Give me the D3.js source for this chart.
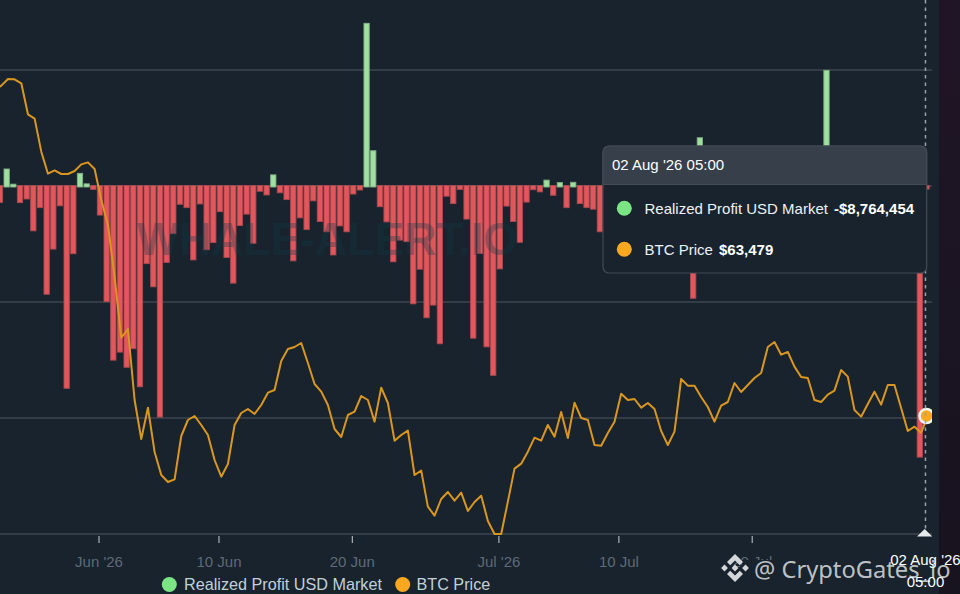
<!DOCTYPE html>
<html>
<head>
<meta charset="utf-8">
<script src="https://cdn.jsdelivr.net/npm/d3@7"></script>
<style>
  html, body { margin: 0; padding: 0; background: #18232d; overflow: hidden; }
  svg { display: block; font-family: "Liberation Sans", Arial, sans-serif; }
</style>
</head>
<body>
<svg id="chart" width="960" height="594"></svg>
<script>
// Realized profit per 12h, USD millions. null = sits behind the tooltip in the reference
const profit = [
  -0.53, 0.55, 0.06, -0.54, -0.42, -1.45, -0.70, -3.50, -2.04, -0.64,
  -6.54, -2.19, 0.41, 0.07, -0.11, -0.94, -3.74, -5.63, -5.37, -5.86,
  -5.26, -6.49, -2.51, -3.26, -7.47, -2.47, -1.54, -0.59, -0.70, -2.39,
  -0.58, -2.06, -1.83, -0.83, -2.31, -3.14, -1.28, -0.91, -1.85, -0.17,
  -0.29, 0.36, -0.22, -0.44, -2.42, -1.03, -1.41, -0.48, -1.15, -1.48,
  -2.23, -1.29, -1.48, -0.26, -0.13, 5.26, 1.14, -0.67, -1.16, -2.45,
  -1.75, -1.80, -3.81, -2.69, -4.26, -3.85, -5.10, -0.33, -0.57, -0.11,
  -1.07, -4.92, -2.18, -5.20, -6.12, -2.68, -0.65, -1.15, -1.82, -0.52,
  -0.12, -0.19, 0.19, -0.30, 0.11, -0.70, 0.12, -0.57, -0.70, -0.75,
  -1.48, null, null, null, null, null, null, null, null, null,
  null, null, null, null, -3.63, 1.56, null, null, null, null,
  null, null, null, null, null, null, null, null, null, null,
  null, null, null, null, 3.74, null, null, null, null, null,
  null, null, null, null, null, null, null, null, -8.764454, -0.10
];

// BTC price, USD, same 12h steps (starts one step before the bars)
const btcPrice = [
  73260, 73390, 73590, 73580, 73460, 72530, 72400, 71410, 70750, 70850,
  70740, 70740, 70830, 71030, 71090, 70890, 69960, 69210, 67650, 65830,
  66090, 63960, 62790, 63730, 62400, 61710, 61500, 61580, 62880, 63360,
  63480, 63210, 62910, 62160, 61660, 62040, 63210, 63570, 63690, 63540,
  63810, 64180, 64260, 65130, 65490, 65550, 65670, 65070, 64440, 64210,
  63810, 63090, 62850, 63510, 63610, 64080, 63960, 63310, 64330, 63870,
  62740, 62910, 63040, 61710, 61840, 60760, 60490, 60990, 61200, 60940,
  61180, 60630, 60900, 61090, 60330, 59940, 59940, 60910, 61900, 62050,
  62410, 62830, 62740, 63210, 62860, 63600, 62820, 63880, 63420, 63360,
  62610, 62590, 62970, 63310, 64150, 63960, 63990, 63730, 63870, 63690,
  63030, 62610, 63010, 64590, 64390, 64390, 64050, 63750, 63310, 63790,
  63900, 64470, 64200, 64410, 64620, 64770, 65550, 65700, 65320, 65400,
  64960, 64650, 64620, 63960, 63900, 64120, 64240, 64860, 64660, 63660,
  63460, 63840, 64210, 63820, 64410, 64410, 63720, 63030, 63160, 62980,
  63479
];

const tickDates = ["2026-06-01", "2026-06-10", "2026-06-20", "2026-07-01", "2026-07-10", "2026-07-20"];
const tickLabels = ["Jun '26", "10 Jun", "20 Jun", "Jul '26", "10 Jul", "20 Jul"];
const profitGrid = [3.75, 0, -3.75, -7.5, -11.25];

const barStart = Date.UTC(2026, 4, 24, 17);
const priceStart = Date.UTC(2026, 4, 24, 5);
const step = 12 * 3600 * 1000;

const width = 960;
const height = 594;
const plotRight = 932;
const barWidth = 5.3;
const barShift = -1.3; // bars sit a little left of the line points

const svg = d3.select("#chart");

const x = d3.scaleUtc()
  .domain([new Date("2026-06-01T00:00Z"), new Date("2026-07-20T00:00Z")])
  .range([98.5, 751.7]);
const yProfit = d3.scaleLinear().domain([-11.25, 3.75]).range([534, 70]);
const yPrice = d3.scaleLinear().domain([59940, 73860]).range([534, 70]);

svg.append("rect").attr("width", width).attr("height", height).attr("fill", "#18232d");

// Dark strip on the right of the plot
const stripGrad = svg.append("defs").append("linearGradient")
  .attr("id", "strip").attr("x1", 0).attr("x2", 0).attr("y1", 0).attr("y2", 1);
stripGrad.append("stop").attr("offset", "0%").attr("stop-color", "#201526");
stripGrad.append("stop").attr("offset", "100%").attr("stop-color", "#17131f");
svg.append("rect").attr("x", 939).attr("y", 0).attr("width", 21).attr("height", height)
  .attr("fill", "url(#strip)");

svg.select("defs").append("clipPath").attr("id", "plot")
  .append("rect").attr("x", 0).attr("y", 0).attr("width", plotRight).attr("height", 540);

// Grid lines
svg.append("g").attr("class", "grid")
  .selectAll("line").data(profitGrid).enter().append("line")
  .attr("x1", 0).attr("x2", plotRight)
  .attr("y1", (d) => yProfit(d)).attr("y2", (d) => yProfit(d))
  .attr("stroke", "#3e464f").attr("stroke-width", 1.4);

// Bottom axis
const axis = d3.axisBottom(x)
  .tickValues(tickDates.map((d) => new Date(d + "T00:00Z")))
  .tickFormat((d, i) => tickLabels[i])
  .tickSize(7)
  .tickPadding(13);
const axisG = svg.append("g").attr("transform", "translate(0,536)").call(axis);
axisG.select(".domain").remove();
axisG.selectAll("line").attr("stroke", "#c8cdd2");
axisG.selectAll("text").attr("fill", "#5f6a76").style("font-size", "15px")
  .style("font-family", '"Liberation Sans", Arial, sans-serif');

const plot = svg.append("g").attr("clip-path", "url(#plot)");

// Bars
const barData = profit
  .map((v, i) => ({ v: v, t: new Date(barStart + i * step) }))
  .filter((d) => d.v !== null);

plot.append("g").selectAll("rect").data(barData).enter().append("rect")
  .attr("x", (d) => x(d.t) + barShift - barWidth / 2)
  .attr("width", barWidth)
  .attr("y", (d) => (d.v > 0 ? yProfit(d.v) : yProfit(0) - 0.5))
  .attr("height", (d) => Math.abs(yProfit(d.v) - yProfit(0)) + (d.v > 0 ? 1 : 0.5))
  .attr("fill", (d) => (d.v > 0 ? "#9fdf9f" : "#e2565c"))
  .attr("stroke", (d) => (d.v > 0 ? "#7faf82" : "#a84a50"))
  .attr("stroke-width", 0.9);

// Price line
const priceLine = d3.line()
  .x((d, i) => x(new Date(priceStart + i * step)))
  .y((d) => yPrice(d));

plot.append("path").datum(btcPrice)
  .attr("d", priceLine)
  .attr("fill", "none")
  .attr("stroke", "#da971f")
  .attr("stroke-width", 2)
  .attr("stroke-linejoin", "round");

// Faint watermark over the bars
svg.append("text")
  .attr("x", 137).attr("y", 255)
  .attr("textLength", 381)
  .attr("lengthAdjust", "spacingAndGlyphs")
  .attr("fill", "#113a47").attr("opacity", 0.32)
  .style("font-size", "46px").style("font-weight", "bold")
  .text("WHALE-ALERT.IO");

// Crosshair
const lastTime = new Date(priceStart + (btcPrice.length - 1) * step);
const hoverX = x(lastTime) - 2.3;

svg.append("line")
  .attr("x1", hoverX).attr("x2", hoverX).attr("y1", 0).attr("y2", 530)
  .attr("stroke", "#9aa1a8").attr("stroke-width", 1.5).attr("stroke-dasharray", "3.5,4");

plot.append("circle")
  .attr("cx", hoverX + 1).attr("cy", yPrice(btcPrice[btcPrice.length - 1]))
  .attr("r", 7).attr("fill", "#f9a81f")
  .attr("stroke", "#f2f4f5").attr("stroke-width", 2.6);

svg.append("path")
  .attr("d", d3.line()([[hoverX - 8.5, 536.5], [hoverX + 6.8, 536.5], [hoverX - 0.8, 529]]) + "Z")
  .attr("fill", "#e6eaea");

// Tooltip
const tip = svg.append("g").attr("transform", "translate(603,146)");
const tipW = 323.7;
const tipH = 127;
tip.append("rect").attr("width", tipW).attr("height", tipH).attr("rx", 6)
  .attr("fill", "#18232d").attr("stroke", "#434b55").attr("stroke-width", 1.2);
tip.append("path")
  .attr("d", `M0,38.5V6A6,6 0 0 1 6,0H${tipW - 6}A6,6 0 0 1 ${tipW},6V38.5Z`)
  .attr("fill", "#363f4a").attr("stroke", "#434b55").attr("stroke-width", 1.2);
tip.append("text").attr("x", 9).attr("y", 24).attr("fill", "#ffffff")
  .style("font-size", "15px").text("02 Aug '26 05:00");

const tipRows = [
  { name: "Realized Profit USD Market", value: "-$8,764,454", color: "#7ae582", y: 62.3, vx: 231 },
  { name: "BTC Price", value: "$63,479", color: "#f9a81f", y: 103.3, vx: 116 }
];
tipRows.forEach((row) => {
  tip.append("circle").attr("cx", 21.3).attr("cy", row.y).attr("r", 7.5).attr("fill", row.color);
  tip.append("text").attr("x", 41.5).attr("y", row.y + 5.5).attr("fill", "#eef2f5")
    .style("font-size", "15px").text(row.name);
  tip.append("text").attr("x", row.vx).attr("y", row.y + 5.5).attr("fill", "#ffffff")
    .style("font-size", "15px").style("font-weight", "bold").text(row.value);
});

// Legend
const legend = [
  { name: "Realized Profit USD Market", color: "#7ae582", cx: 169.3, tx: 184 },
  { name: "BTC Price", color: "#f9a81f", cx: 402.7, tx: 416.5 }
];
legend.forEach((d) => {
  svg.append("circle").attr("cx", d.cx).attr("cy", 584.5).attr("r", 7.5).attr("fill", d.color);
  svg.append("text").attr("x", d.tx).attr("y", 590).attr("fill", "#c3d0da")
    .style("font-size", "16.2px").text(d.name);
});

// CryptoGates mark, covers the lower part of the 20 Jul tick label
svg.append("rect").attr("x", 742).attr("y", 560).attr("width", 40).attr("height", 8).attr("fill", "#18232d");
const mark = svg.append("g").attr("transform", "translate(735,568)").attr("fill", "#d4d7da");
mark.append("path").attr("d", "M0,-14L8,-6L4.8,-2.8L0,-7.6L-4.8,-2.8L-8,-6Z");
mark.append("path").attr("d", "M0,14L8,6L4.8,2.8L0,7.6L-4.8,2.8L-8,6Z");
[-10.5, 0, 10.5].forEach((cx) => {
  mark.append("rect").attr("x", -2.4).attr("y", -2.4).attr("width", 4.8).attr("height", 4.8)
    .attr("transform", `translate(${cx},0) rotate(45)`);
});
svg.append("text")
  .attr("x", 754).attr("y", 578)
  .attr("fill", "#d4d7da").attr("fill-opacity", 0.9)
  .style("font-family", '"Noto Sans", sans-serif').style("font-size", "23.7px")
  .text("@ CryptoGates_io");

// Hover label on the axis
svg.append("text").attr("x", hoverX).attr("y", 565).attr("text-anchor", "middle")
  .attr("fill", "#ffffff").style("font-size", "15px").text("02 Aug '26");
svg.append("text").attr("x", hoverX).attr("y", 587).attr("text-anchor", "middle")
  .attr("fill", "#ffffff").style("font-size", "15px").text("05:00");
</script>
</body>
</html>
